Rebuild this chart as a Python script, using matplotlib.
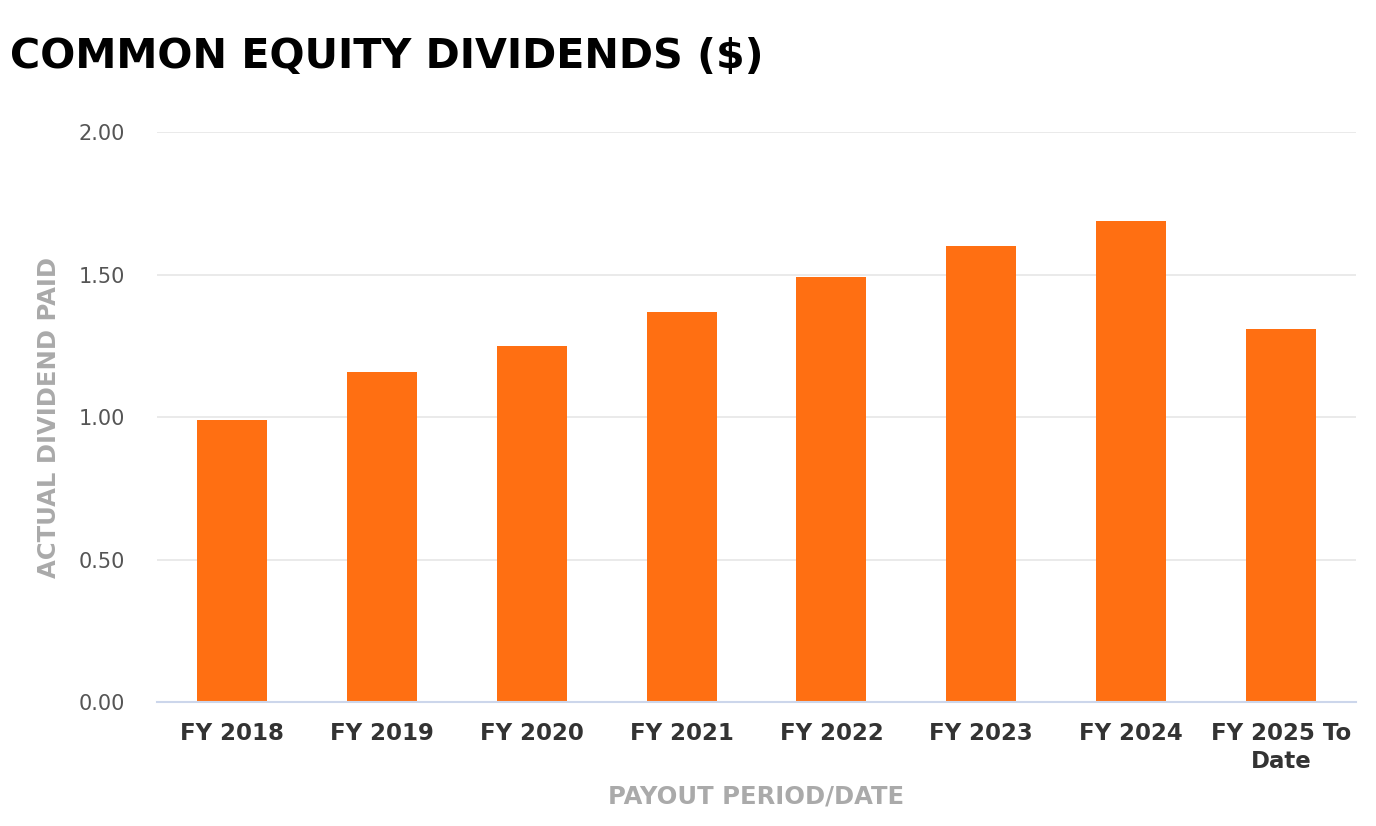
import matplotlib
matplotlib.use("Agg")
import matplotlib.pyplot as plt

# dados
periodos = ["FY 2018", "FY 2019", "FY 2020", "FY 2021", "FY 2022", "FY 2023", "FY 2024", "FY 2025 To\nDate"]
dividendos = [0.99, 1.16, 1.25, 1.37, 1.49, 1.60, 1.69, 1.31]
yticks = [0.0, 0.5, 1.0, 1.5, 2.0]

laranja = "#ff6f12"

fig = plt.figure(figsize=(13.76, 8.26), dpi=100)
ax = fig.add_axes([0.1141, 0.150, 0.8714, 0.690])

x = range(len(periodos))
ax.bar(x, dividendos, width=0.467, color=laranja, zorder=3)

ax.set_xlim(-0.5, len(periodos) - 0.5)
ax.set_ylim(0, 2.0)
ax.set_yticks(yticks)
ax.set_yticklabels([f"{v:.2f}" for v in yticks], fontsize=15, color="#555555")
ax.set_xticks(list(x))
ax.set_xticklabels(periodos, fontsize=16.5, fontweight="bold", color="#333333", linespacing=1.3)

ax.grid(axis="y", color="#e6e6e6", linewidth=1.2, zorder=0)
ax.tick_params(axis="both", length=0)
ax.tick_params(axis="y", pad=23)
ax.tick_params(axis="x", pad=14)
for lado in ["top", "right", "left"]:
    ax.spines[lado].set_visible(False)
ax.spines["bottom"].set_color("#ccd6eb")
ax.spines["bottom"].set_linewidth(1.5)
ax.spines["bottom"].set_zorder(4)

ax.set_ylabel("ACTUAL DIVIDEND PAID", fontsize=17.5, fontweight="bold", color="#aaaaaa", labelpad=13)
ax.set_xlabel("PAYOUT PERIOD/DATE", fontsize=17.5, fontweight="bold", color="#aaaaaa", labelpad=8)

fig.text(0.007, 0.931, "COMMON EQUITY DIVIDENDS ($)", fontsize=29.7, fontweight="bold",
         color="#000000", va="center", ha="left")

fig.savefig("out.png", dpi=100)
